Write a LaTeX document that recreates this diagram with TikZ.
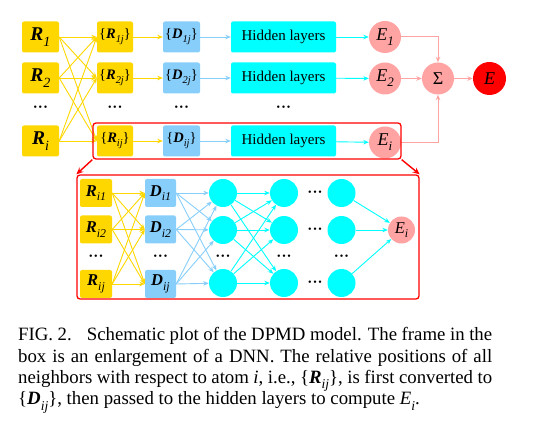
\documentclass[tikz,border=0pt]{standalone}
\usepackage{fontspec}
\setmainfont{Liberation Serif}
\usepackage{graphicx}
\usetikzlibrary{arrows.meta}
\definecolor{cyel}{HTML}{FFD700}
\definecolor{cblu}{HTML}{87CEFA}
\definecolor{ccya}{HTML}{00FFFF}
\definecolor{cpnk}{HTML}{FFA3A3}
\definecolor{cred}{HTML}{FF0000}
\newcommand\ssub[1]{\raisebox{-0.28em}{\scalebox{0.72}{\mdseries\itshape #1}}}
\newcommand\bR{{\bfseries\itshape R}}
\newcommand\bD{{\bfseries\itshape D}}
\newcommand\vdts{{\fontsize{10}{10}\selectfont\textbullet\kern1.6pt\textbullet\kern1.6pt\textbullet}}
\begin{document}
\begin{tikzpicture}[x=1pt,y=-1pt,
  box/.style={rounded corners=2pt,inner sep=0pt,minimum height=31pt},
  ybox/.style={box,fill=cyel},
  bbox/.style={box,fill=cblu},
  cbox/.style={box,fill=ccya},
  sbox/.style={rounded corners=2pt,inner sep=0pt,minimum height=28pt,font=\fontsize{16.5}{16.5}\selectfont},
  pc/.style={circle,fill=cpnk,inner sep=0pt,minimum size=32pt,font=\fontsize{18}{18}\selectfont},
  nc/.style={circle,fill=ccya,inner sep=0pt,minimum size=28pt},
  tip/.style={-{Stealth[length=5.5pt,width=4.5pt]}},
  yarr/.style={tip,draw=cyel,line width=0.9pt},
  barr/.style={tip,draw=cblu,line width=0.9pt},
  carr/.style={tip,draw=ccya,line width=0.9pt},
  parr/.style={tip,draw=cpnk,line width=1pt},
  rframe/.style={draw=cred,line width=1.3pt,rounded corners=3pt,inner sep=0pt},
  rarr/.style={draw=cred,line width=1.4pt,-{Stealth[length=7pt,width=6pt]}},
  dts/.style={inner sep=0pt},
  captxt/.style={anchor=base west,inner sep=0pt,font=\fontsize{18.8}{18.8}\selectfont}
]
\useasboundingbox (0,0) rectangle (539,422);

% ---- top rows
\foreach \n/\s/\y in {1/1/37,2/2/78,i/i/141}{
  \node[ybox,minimum width=37pt,font=\fontsize{19.5}{19.5}\selectfont] (R\n) at (40.5,\y) {\bR\ssub{\s}};
  \node[ybox,minimum width=36pt,font=\fontsize{14.5}{14.5}\selectfont] (S\n) at (115,\y) {\{\bR\ssub{\s j}\}};
  \node[bbox,minimum width=37pt,font=\fontsize{14.5}{14.5}\selectfont] (D\n) at (181.5,\y) {\{\bD\ssub{\s j}\}};
  \node[cbox,minimum width=105pt,font=\fontsize{15}{15}\selectfont] (H\n) at (283.5,\y) {Hidden layers};
}
\node[pc] (E1) at (385,37) {\textit{E}\ssub{1}};
\node[pc] (E2) at (385,78.5) {\textit{E}\ssub{2}};
\node[pc] (Ei) at (385,142.5) {\textit{E}\ssub{i}};
\node[pc] (Sig) at (438,78.5) {Σ};
\node[circle,fill=cred,inner sep=0pt,minimum size=33pt,font=\fontsize{18}{18}\selectfont] (Eall) at (489.5,78.5) {\textit{E}};

\node[dts] (d1) at (40.5,108) {\vdts};
\node[dts] (d2) at (115,108) {\vdts};
\node[dts] (d3) at (181.5,108) {\vdts};
\node[dts] (d4) at (283.5,108) {\vdts};

\foreach \a in {1,2,i}{
  \foreach \b in {1,2,i}{
    \draw[yarr] (R\a.east) -- (S\b.west);
  }
  \draw[yarr] (S\a) -- (D\a);
  \draw[barr] (D\a) -- (H\a);
}
\draw[carr] (H1) -- (E1);
\draw[carr] (H2) -- (E2);
\draw[carr] (Hi) -- (Ei);
\draw[parr] (E1.east) -| (Sig.north);
\draw[parr] (E2) -- (Sig);
\draw[parr] (Ei.east) -| (Sig.south);
\draw[parr] (Sig) -- (Eall);

% ---- frames
\node[rframe,minimum width=308pt,minimum height=36pt] (F1) at (247,141) {};
\node[rframe,minimum width=342pt,minimum height=124pt] (F2) at (248,237) {};
\draw[rarr] (F1.south west) -- (F2.north west);
\draw[rarr] (F1.south east) -- (F2.north east);

% ---- enlarged network
\foreach \n/\s/\y in {a/1/193,b/2/229.5,c/j/284}{
  \node[sbox,fill=cyel,minimum width=32pt] (r\n) at (96,\y) {\bR\ssub{i\s}};
  \node[sbox,fill=cblu,minimum width=31pt] (q\n) at (160.5,\y) {\bD\ssub{i\s}};
}
\foreach \n/\y in {a/193,b/230,c/283}{
  \node[nc] (x\n) at (223,\y) {};
  \node[nc] (y\n) at (284,\y) {};
  \node[dts] (m\n) at (315,\y) {\vdts};
  \node[nc] (z\n) at (341.5,\y) {};
}
\node[circle,fill=cpnk,inner sep=0pt,minimum size=27pt,font=\fontsize{16.5}{16.5}\selectfont] (Eb) at (401.5,230) {\textit{E}\ssub{i}};
\node[dts] (e1) at (96,257) {\vdts};
\node[dts] (e2) at (160.5,257) {\vdts};
\node[dts] (e3) at (223,257) {\vdts};
\node[dts] (e4) at (284,257) {\vdts};
\node[dts] (e5) at (341.5,257) {\vdts};

\foreach \a in {a,b,c}{
  \foreach \b in {a,b,c}{
    \draw[yarr] (r\a.east) -- (q\b.west);
    \draw[barr] (q\a.east) -- (x\b);
    \draw[carr] (x\a) -- (y\b);
  }
  \draw[carr] (z\a) -- (Eb);
}

% ---- caption
\node[captxt] (cap1) at (18,340.7) {\makebox[474pt][s]{FIG. 2.\hspace{0.8em}Schematic plot of the DPMD model. The frame in the}};
\node[captxt] (cap2) at (18,362.2) {\makebox[474pt][s]{box is an enlargement of a DNN. The relative positions of all}};
\node[captxt] (cap3) at (18,383.6) {\makebox[474pt][s]{neighbors with respect to atom \textit{i}, i.e., \{\bR\ssub{ij}\}, is first converted to}};
\node[captxt] (cap4) at (18,405) {\{\bD\ssub{ij}\}, then passed to the hidden layers to compute \textit{E}\ssub{i}.};
\end{tikzpicture}
\end{document}
